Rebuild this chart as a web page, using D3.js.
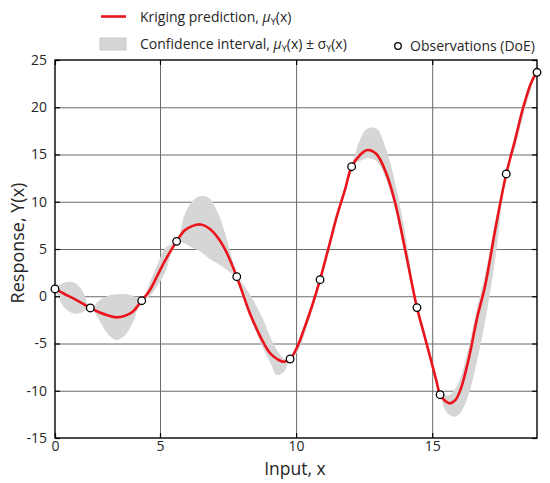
<!DOCTYPE html>
<html lang="en">
<head>
<meta charset="UTF-8">
<title>Kriging prediction</title>
<script src="https://d3js.org/d3.v7.min.js"></script>
<style>
  body { margin: 0; background: #fff; }
  text { font-family: "Open Sans", "Noto Sans", sans-serif; fill: #262626; }
  .tick text { font-size: 14px; }
  .grid line { stroke: #6b6b6b; stroke-width: 1; }
  .grid .domain { display: none; }
  .ticks .domain { display: none; }
  .ticks line { stroke: #000; stroke-width: 1.2; }
</style>
</head>
<body>
<svg width="550" height="483"></svg>
<script>
const gridX = [0, 0.45, 0.9, 1.3, 1.68, 2.1, 2.5, 2.9, 3.3, 3.7, 4.13,
  4.5, 4.85, 5.2, 5.61, 5.9, 6.2, 6.5, 6.8, 7.1, 7.4, 7.65, 7.82,
  8.05, 8.3, 8.55, 8.8, 9.05, 9.3, 9.55, 9.78, 10.05, 10.3, 10.6, 10.88,
  11.2, 11.5, 11.8, 12.04, 12.35, 12.62, 12.95, 13.3, 13.63, 14.0, 14.44,
  14.7, 14.95, 15.15, 15.29, 15.45, 15.65, 15.85, 16.05, 16.35, 16.65, 16.95, 17.35, 17.72,
  18.05, 18.35, 18.65, 18.85];
const meanY = [0.77, 0.24, -0.26, -0.75, -1.24, -1.7, -2.02, -2.23, -2.09, -1.63, -0.47,
  0.59, 2.07, 3.84, 5.81, 6.95, 7.45, 7.6, 7.2, 6.3, 4.9, 3.3, 2.07,
  0.2, -1.8, -3.45, -4.9, -6.04, -6.64, -6.93, -6.64, -5.3, -3.4, -0.9, 1.75,
  5.2, 8.5, 11.3, 13.71, 14.95, 15.48, 15.05, 13.1, 10.0, 5.0, -1.2,
  -4.0, -6.7, -8.9, -10.42, -11.0, -11.33, -11.0, -9.8, -6.5, -2.3, 1.2, 7.6, 12.94,
  16.6, 20.06, 22.7, 23.7];
const upperY = [0.77, 1.45, 1.45, 0.6, -1.24, -0.47, 0.03, 0.21, 0.24, 0.06, -0.47,
  1.4, 3.2, 5.1, 5.81, 8.6, 10.1, 10.6, 10.4, 9.0, 6.6, 3.9, 2.07,
  1.3, 0.2, -1.1, -2.5, -4.3, -5.7, -6.6, -6.64, -5.1, -3.2, -0.7, 1.75,
  5.5, 8.8, 11.6, 13.71, 16.6, 17.75, 17.75, 15.6, 12.1, 6.8, -1.2,
  -3.7, -6.4, -8.6, -10.42, -10.5, -10.4, -9.8, -8.5, -5.3, -1.2, 2.4, 8.4, 12.94,
  17.0, 20.4, 23.0, 23.7];
const lowerY = [0.77, -1.2, -1.85, -1.7, -1.24, -2.5, -3.95, -4.63, -4.2, -2.8, -0.47,
  0.0, 1.0, 2.6, 5.81, 5.6, 5.1, 4.7, 4.0, 3.5, 2.9, 2.4, 2.07,
  -0.1, -2.2, -3.9, -5.6, -7.0, -8.35, -8.0, -6.64, -5.9, -4.1, -1.4, 1.75,
  4.9, 8.2, 11.0, 13.71, 14.3, 14.6, 14.3, 12.4, 9.3, 4.4, -1.2,
  -4.3, -7.0, -9.3, -10.42, -11.9, -12.6, -12.75, -12.3, -10.3, -6.8, -2.6, 4.6, 12.94,
  15.8, 19.2, 22.1, 23.7];

// observations (DoE)
const obsX = [0, 1.68, 4.13, 5.61, 7.82, 9.78, 10.88, 12.04, 14.44, 15.29, 17.72, 18.85];
const obsY = [0.77, -1.24, -0.47, 5.81, 2.07, -6.64, 1.75, 13.71, -1.2, -10.42, 12.94, 23.7];

const xTicks = [0, 5, 10, 15];
const yTicks = [-15, -10, -5, 0, 5, 10, 15, 20, 25];
const xMax = 18.85;

const svg = d3.select("svg");
const pl = 55, pr = 537, pt = 60, pb = 438;

// the picture's x axis is not uniform between 0 and 5
const x = d3.scaleLinear().domain([0, 5, xMax]).range([pl, 160, pr]);
const y = d3.scaleLinear().domain([-15, 25]).range([pb, pt]);

const pts = gridX.map((d, i) => ({ x: d, m: meanY[i], lo: lowerY[i], hi: upperY[i] }));

// grid
svg.append("g").attr("class", "grid")
    .attr("transform", `translate(0,${pb})`)
    .call(d3.axisBottom(x).tickValues(xTicks.slice(1)).tickSize(-(pb - pt)).tickFormat(""));
svg.append("g").attr("class", "grid")
    .attr("transform", `translate(${pl},0)`)
    .call(d3.axisLeft(y).tickValues(yTicks.slice(1, -1)).tickSize(-(pr - pl)).tickFormat(""));

const curve = d3.curveCatmullRom.alpha(0.5);

// confidence band
svg.append("path")
    .datum(pts)
    .attr("fill", "#d6d6d6")
    .attr("d", d3.area().curve(curve)
        .x(d => x(d.x)).y0(d => y(d.lo)).y1(d => y(d.hi)));

// kriging mean
svg.append("path")
    .datum(pts)
    .attr("fill", "none")
    .attr("stroke", "#e9141c")
    .attr("stroke-width", 2.6)
    .attr("d", d3.line().curve(curve).x(d => x(d.x)).y(d => y(d.m)));

// frame
svg.append("rect")
    .attr("x", pl).attr("y", pt)
    .attr("width", pr - pl).attr("height", pb - pt)
    .attr("fill", "none").attr("stroke", "#000").attr("stroke-width", 1.4);

// inward ticks + labels
const fmt = d => String(d);
svg.append("g").attr("class", "ticks")
    .attr("transform", `translate(${pl},0)`)
    .call(d3.axisLeft(y).tickValues(yTicks).tickSize(-5).tickPadding(8).tickFormat(fmt));
svg.append("g").attr("class", "ticks")
    .attr("transform", `translate(${pr},0)`)
    .call(d3.axisRight(y).tickValues(yTicks).tickSize(-5).tickFormat(""));
svg.append("g").attr("class", "ticks")
    .attr("transform", `translate(0,${pb})`)
    .call(d3.axisBottom(x).tickValues(xTicks).tickSize(-5).tickPadding(3).tickFormat(fmt));
svg.append("g").attr("class", "ticks")
    .attr("transform", `translate(0,${pt})`)
    .call(d3.axisTop(x).tickValues(xTicks).tickSize(-5).tickFormat(""));
svg.selectAll(".ticks text").attr("fill", "#262626");

// observations
svg.append("g")
    .selectAll("circle")
    .data(obsX.map((d, i) => [d, obsY[i]]))
    .join("circle")
    .attr("cx", d => x(d[0]))
    .attr("cy", d => y(d[1]))
    .attr("r", 3.8)
    .attr("fill", "#fff")
    .attr("stroke", "#000")
    .attr("stroke-width", 1.3);

// axis titles
svg.append("text")
    .attr("x", (pl + pr) / 2 - 1).attr("y", 475)
    .attr("text-anchor", "middle")
    .style("font-size", "17.5px")
    .text("Input, x");
svg.append("text")
    .attr("transform", "translate(23.5,243) rotate(-90)")
    .attr("text-anchor", "middle")
    .style("font-size", "18px")
    .text("Response, Y(x)");

// legend
const leg = svg.append("g").style("font-size", "14px");
leg.append("line")
    .attr("x1", 101).attr("x2", 126).attr("y1", 16.5).attr("y2", 16.5)
    .attr("stroke", "#e9141c").attr("stroke-width", 2.6);
const t1 = leg.append("text").attr("x", 140).attr("y", 21.5);
t1.append("tspan").text("Kriging prediction, ");
t1.append("tspan").style("font-style", "italic").text("μ");
t1.append("tspan").attr("dy", 3).style("font-size", "9px").text("Y");
t1.append("tspan").attr("dy", -3).text("(x)");

leg.append("rect")
    .attr("x", 100).attr("y", 38).attr("width", 26).attr("height", 12)
    .attr("fill", "#d6d6d6").attr("stroke", "#c4c4c4").attr("stroke-width", 0.8);
const t2 = leg.append("text").attr("x", 140).attr("y", 49);
t2.append("tspan").text("Confidence interval, ");
t2.append("tspan").style("font-style", "italic").text("μ");
t2.append("tspan").attr("dy", 3).style("font-size", "9px").text("Y");
t2.append("tspan").attr("dy", -3).text("(x) ± σ");
t2.append("tspan").attr("dy", 3).style("font-size", "9px").text("Y");
t2.append("tspan").attr("dy", -3).text("(x)");

leg.append("circle")
    .attr("cx", 398).attr("cy", 46)
    .attr("r", 3.3)
    .attr("fill", "#fff").attr("stroke", "#000").attr("stroke-width", 1.3);
leg.append("text").attr("x", 410).attr("y", 51).text("Observations (DoE)");
</script>
</body>
</html>
